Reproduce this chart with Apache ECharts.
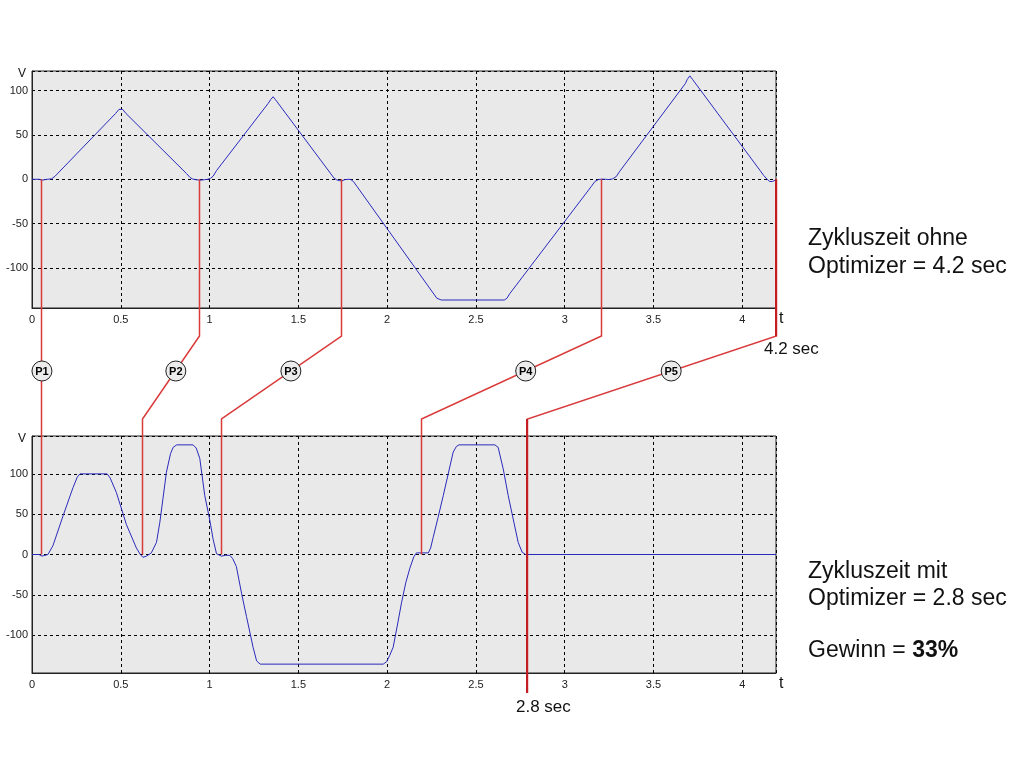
<!DOCTYPE html>
<html>
<head>
<meta charset="utf-8">
<script src="https://cdn.jsdelivr.net/npm/echarts@6/dist/echarts.min.js"></script>
<style>
html,body{margin:0;padding:0;background:#fff}
#c{width:1024px;height:768px}
</style>
</head>
<body>
<div id="c"></div>
<script>
// ---- data: cycle without optimizer (top) ----
const tTop = [0, 0.04, 0.056, 0.085, 0.11, 0.13, 0.47, 0.49, 0.5, 0.51, 0.53, 0.87, 0.89, 0.905, 0.925, 0.945, 0.97, 0.99, 1.005, 1.02, 1.04, 1.33, 1.345, 1.358, 1.37, 1.385, 1.68, 1.70, 1.715, 1.73, 1.743, 1.76, 1.78, 1.795, 1.81, 1.83, 2.28, 2.29, 2.305, 2.66, 2.675, 2.69, 3.15, 3.17, 3.19, 3.21, 3.23, 3.25, 3.27, 3.29, 3.31, 3.68, 3.69, 3.705, 3.72, 4.10, 4.12, 4.14, 4.155, 4.17, 4.19];
const vTop = [0, 0, -1, 0, 0.5, 3.5, 74, 78.8, 80, 78.8, 74, 6.5, 2, 0.3, -0.5, -1, -0.5, 0, 1, 3.5, 10, 85.5, 90, 93, 90, 86, 7, 1.5, -0.5, -1.5, -2, -0.5, 0, -0.2, -2.5, -8, -134, -135, -136, -136, -134, -129, -8, -2.5, -0.3, 0.2, 0, -0.3, 0.5, 3, 9, 108, 112.5, 116.5, 112.5, 10, 4.5, 0, -2.5, -2.5, -0.5];

// ---- data: cycle with optimizer (bottom) ----
const tBottom = [0, 0.04, 0.056, 0.09, 0.118, 0.175, 0.231, 0.255, 0.27, 0.423, 0.44, 0.475, 0.532, 0.588, 0.61, 0.625, 0.645, 0.672, 0.701, 0.72, 0.738, 0.757, 0.78, 0.795, 0.815, 0.907, 0.925, 0.945, 0.973, 1.0, 1.02, 1.039, 1.05, 1.067, 1.09, 1.114, 1.13, 1.151, 1.18, 1.208, 1.245, 1.265, 1.285, 1.978, 1.997, 2.015, 2.034, 2.06, 2.081, 2.105, 2.128, 2.15, 2.165, 2.232, 2.245, 2.259, 2.287, 2.316, 2.344, 2.372, 2.39, 2.405, 2.607, 2.625, 2.654, 2.682, 2.71, 2.738, 2.76, 2.78, 4.19];
const vBottom = [0, 0, -2, 0, 11, 48, 83, 96, 100, 100, 95, 77, 37, 8, 0, -3.5, -2, 2, 15, 40, 70, 102, 125, 133, 136, 136, 132, 119, 73, 44, 19, 1, -1, -2, -1, -1, -5, -15, -48, -77, -115, -132, -136, -136, -133, -125, -115, -85, -60, -35, -17, -3, 2, 2, 8, 21, 46, 73, 100, 127, 134, 136, 136, 133, 106, 73, 44, 15, 3, 0, 0];

// ---- axes ----
const xMax = 4.19;
const xInterval = 0.5;
const yTopRange = [-145, 122];
const yBottomRange = [-147, 147];

// ---- marked positions P1..P5 (time on top curve, time on bottom curve) ----
const markNames = ['P1', 'P2', 'P3', 'P4', 'P5'];
const markTop = [0.056, 0.945, 1.743, 3.208, 4.19];
const markBottom = [0.056, 0.625, 1.067, 2.194, 2.79];

// ---- annotations ----
const cycleWithout = 4.2;
const cycleWith = 2.8;
const gainPercent = 33;

const FONT = 'Arial, "Liberation Sans", sans-serif';
const labelStyle = { color: '#222', fontFamily: FONT, fontSize: 11 };
const splitStyle = { show: true, lineStyle: { color: '#000', type: [3, 3], width: 1 } };

function mkX(gi) {
  return {
    type: 'value', gridIndex: gi, min: 0, max: xMax, interval: xInterval,
    name: 't', nameLocation: 'end', nameGap: 3,
    nameTextStyle: { fontSize: 16, color: '#111', fontFamily: FONT, verticalAlign: 'top', align: 'left', padding: [3, 0, 0, 0] },
    axisLine: { show: true, onZero: false, lineStyle: { color: '#222', width: 1 } },
    axisTick: { show: false },
    axisLabel: Object.assign({}, labelStyle, {
      margin: 6, showMaxLabel: false,
      formatter: v => (Math.abs(v / xInterval - Math.round(v / xInterval)) < 1e-6 ? String(v) : '')
    }),
    splitLine: splitStyle
  };
}
function mkY(gi, range) {
  return {
    type: 'value', gridIndex: gi, min: range[0], max: range[1],
    name: 'V', nameLocation: 'end', nameGap: -3,
    nameTextStyle: { fontSize: 12, color: '#111', fontFamily: FONT, align: 'right', verticalAlign: 'middle', padding: [0, 6, 0, 0] },
    axisLine: { show: true, onZero: false, lineStyle: { color: '#222', width: 1 } },
    axisTick: { show: false },
    axisLabel: Object.assign({}, labelStyle, {
      margin: 4, showMinLabel: false, showMaxLabel: false,
      formatter: v => (v % 50 === 0 ? String(v) : '')
    }),
    splitLine: splitStyle
  };
}
const gridBase = { left: 32, width: 744, height: 237, show: true, backgroundColor: '#e9e9e9', borderColor: '#222', borderWidth: 1, containLabel: false, outerBoundsMode: 'none' };

const option = {
  animation: false,
  backgroundColor: '#fff',
  grid: [
    Object.assign({}, gridBase, { top: 71 }),
    Object.assign({}, gridBase, { top: 436 })
  ],
  xAxis: [mkX(0), mkX(1)],
  yAxis: [mkY(0, yTopRange), mkY(1, yBottomRange)],
  series: [
    { type: 'line', xAxisIndex: 0, yAxisIndex: 0, data: tTop.map((t, i) => [t, vTop[i]]),
      symbol: 'none', showSymbol: false, lineStyle: { color: '#2a2abd', width: 1 }, z: 3 },
    { type: 'line', xAxisIndex: 1, yAxisIndex: 1, data: tBottom.map((t, i) => [t, vBottom[i]]),
      symbol: 'none', showSymbol: false, lineStyle: { color: '#2a2abd', width: 1 }, z: 3 }
  ]
};

const chart = echarts.init(document.getElementById('c'), null, { renderer: 'canvas' });
chart.setOption(option);

// ---- connectors between the two plots, positioned through the axes ----
const topAxisY = chart.convertToPixel({ gridIndex: 0 }, [0, yTopRange[0]])[1];
const botTopY = chart.convertToPixel({ gridIndex: 1 }, [0, yBottomRange[1]])[1];
const botAxisY = chart.convertToPixel({ gridIndex: 1 }, [0, yBottomRange[0]])[1];
const bendA = topAxisY + 28;
const bendB = botTopY - 17;
const circleY = bendA + 35;
const thin = '#d93a3a';
const thick = '#c21f22';
const crisp = x => Math.round(x - 0.5) + 0.5;

const graphics = [];
markNames.forEach((name, i) => {
  const p1 = chart.convertToPixel({ gridIndex: 0 }, [markTop[i], 0]);
  const p2 = chart.convertToPixel({ gridIndex: 1 }, [markBottom[i], 0]);
  const x1 = crisp(p1[0]), x2 = crisp(p2[0]);
  const last = i === markNames.length - 1;
  const endY = last ? botAxisY + 20 : p2[1];
  graphics.push({
    type: 'polyline', silent: true, z: 50,
    shape: { points: [[x1, p1[1]], [x1, bendA], [x2, bendB], [x2, endY]] },
    style: { stroke: thin, lineWidth: 1.5, fill: null }
  });
  if (last) {
    graphics.push({ type: 'line', silent: true, z: 51, shape: { x1: Math.round(p1[0]), y1: p1[1], x2: Math.round(p1[0]), y2: bendA }, style: { stroke: thick, lineWidth: 2 } });
    graphics.push({ type: 'line', silent: true, z: 51, shape: { x1: Math.round(p2[0]), y1: bendB, x2: Math.round(p2[0]), y2: endY }, style: { stroke: thick, lineWidth: 2 } });
    graphics.push({ type: 'text', z: 52, x: p1[0] - 12, y: bendA + 13,
      style: { text: cycleWithout + ' sec', font: '17px ' + FONT, fill: '#111', align: 'left', verticalAlign: 'middle' } });
    graphics.push({ type: 'text', z: 52, x: p2[0] + 16, y: botAxisY + 34,
      style: { text: cycleWith + ' sec', font: '17px ' + FONT, fill: '#111', align: 'center', verticalAlign: 'middle' } });
  }
  const cx = p1[0] + (p2[0] - p1[0]) * (circleY - bendA) / (bendB - bendA);
  graphics.push({ type: 'circle', z: 60, shape: { cx: cx, cy: circleY, r: 10 }, style: { fill: '#ececec', stroke: '#222', lineWidth: 1 } });
  graphics.push({ type: 'text', z: 61, x: cx, y: circleY + 0.5,
    style: { text: name, font: 'bold 11px ' + FONT, fill: '#000', align: 'center', verticalAlign: 'middle' } });
});

const big = '23px ' + FONT;
function note(text, y, rich) {
  const el = { type: 'text', z: 70, x: 808, y: y, style: { text: text, font: big, fill: '#111', align: 'left', verticalAlign: 'middle' } };
  if (rich) el.style.rich = rich;
  return el;
}
graphics.push(note('Zykluszeit ohne', 239));
graphics.push(note('Optimizer = ' + cycleWithout + ' sec', 267));
graphics.push(note('Zykluszeit mit', 572));
graphics.push(note('Optimizer = ' + cycleWith + ' sec', 599));
graphics.push(note('{a|Gewinn = }{b|' + gainPercent + '%}', 651, {
  a: { font: big, fill: '#111' },
  b: { font: 'bold ' + big, fill: '#111' }
}));

chart.setOption({ graphic: graphics });
</script>
</body>
</html>
